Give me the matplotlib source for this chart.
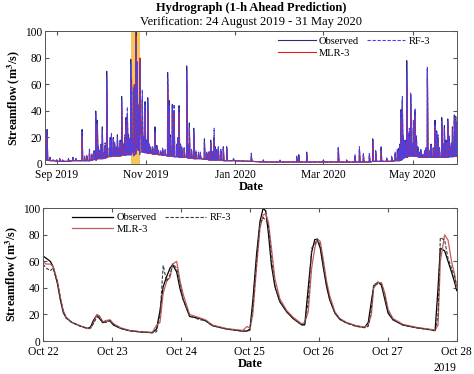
import numpy as np
import pandas as pd
import matplotlib
matplotlib.use("Agg")
import matplotlib.pyplot as plt
import matplotlib.dates as mdates

plt.rcParams['font.family'] = ['Liberation Serif', 'DejaVu Serif']
plt.rcParams['mathtext.fontset'] = 'stix'

# ---------------- data ----------------
start = pd.Timestamp("2019-08-24")
end = pd.Timestamp("2020-05-31")
zoom_start = pd.Timestamp("2019-10-22")

# storm events for the whole verification period (days after 24 Aug 2019)
ev_day = [0.7, 1.4, 3.4, 8, 16, 19, 21, 25.3, 30.3, 34.6, 35.7, 37.5, 39.1, 40.5, 42.1,
          43.9, 45.3, 46.6, 49.4, 50.7, 52.3, 53.9, 55.3, 56.2, 57.6, 58.5,
          66.4, 68.3, 70.1, 72.1, 75.1, 77.4, 80.3, 83.7, 84.6, 86.9, 88.1, 89.9, 91.5,
          93.3, 96.7, 98.5, 101.5, 104.7, 108.8, 110.4, 113.1, 114.4, 115.4, 117.2,
          118.3, 121.7, 124, 128.6, 140.8, 149, 160.4, 171.8, 173.2, 178.6, 190, 200.2,
          205.9, 211.6, 214.6, 217.3, 221.4, 223.7, 225.7, 229.4, 233.2, 236.6, 241.6,
          243, 243.9, 245.3, 246.9, 248, 249.6, 251.4, 252.6, 255.5, 257.8, 261, 262.8,
          266.2, 267.3, 269.2, 270.8, 272.6, 274.9, 276.5, 278.1, 279.4, 280.3]
ev_base = [3, 3, 2.5, 2, 2, 2.5, 2.5, 2.5, 2.5, 3, 4, 4, 4, 4.5, 5,
           6, 6, 6, 6, 6, 6.5, 7, 7, 7, 7, 7,
           9, 8.5, 8, 8, 7.5, 7, 6.5, 6, 6, 6, 5.5, 5.5, 5,
           5, 5, 4.5, 4, 4, 3.5, 3.5, 3, 3, 3, 3,
           3, 2.5, 2.5, 2.5, 2, 1.5, 1.5, 1.5, 1.5, 1.5, 1.5, 1.5,
           1.5, 1.5, 1.5, 1.5, 1.5, 2, 2, 2, 2, 2, 2.5,
           3, 4, 5, 5, 6, 6, 6, 6, 5, 5, 5, 5,
           5, 5, 5, 5, 5, 5, 5.5, 5.5, 6, 6]
ev_obs = [14, 26, 5, 3, 4, 5, 4, 26, 8, 40, 33, 10, 28, 9, 70,
          12, 18, 20, 22, 12, 51, 15, 35, 38, 18, 79,
          49, 47, 50, 12, 28, 10, 11, 69, 48, 45, 40, 14, 44,
          12, 74, 31, 27, 8, 19, 8, 18, 9, 20, 10,
          12, 13, 13, 4, 6, 3, 2.5, 5, 7, 9, 3, 12,
          3, 6, 11, 7, 7, 19, 10, 12, 4, 5, 12,
          41, 48, 15, 78, 22, 52, 27, 40, 8, 7, 72, 10,
          33, 25, 12, 35, 29, 34, 12, 28, 37, 36]
ev_rf = [13, 25, 5, 3, 4, 5, 4, 24, 12, 38, 31, 11, 25, 10, 65,
         13, 23, 19, 20, 13, 48, 16, 33, 43, 20, 75,
         56, 45, 48, 13, 25, 11, 12, 65, 44, 43, 45, 15, 42,
         13, 70, 28, 25, 9, 17, 9, 16, 10, 27, 11,
         13, 12, 12, 4, 9, 3, 3, 6, 6, 8, 3, 13,
         3, 7, 13, 8, 8, 17, 9, 13, 5, 6, 11,
         40, 51, 16, 70, 23, 54, 33, 42, 9, 8, 73, 11,
         30, 24, 13, 32, 27, 32, 13, 27, 35, 35]
ev_mlr = [12, 20, 4, 3, 3.5, 4.5, 4, 20, 9, 30, 28, 9, 22, 8, 55,
          11, 15, 17, 18, 11, 42, 13, 30, 35, 16, 65,
          45, 40, 42, 11, 22, 9, 10, 60, 40, 38, 38, 12, 38,
          11, 62, 25, 22, 7, 16, 7, 15, 8, 18, 9,
          11, 11, 11, 3.5, 5, 2.5, 2.5, 4, 5, 7, 2.5, 9,
          2.5, 5, 10, 6, 6, 15, 8, 10, 4, 5, 10,
          35, 42, 13, 60, 20, 45, 25, 35, 7, 6, 65, 9,
          27, 22, 11, 28, 25, 30, 11, 25, 33, 33]

# smaller freshets that make up the dense band near the baseflow
sm_day = [5.5, 10, 12, 27, 28.5, 32, 33.5, 36.5, 38.3, 41, 44.5, 47.5, 48.5, 51.3, 54.5,
          57, 67.5, 69.2, 71, 73.5, 76.3, 79, 82, 85.5, 87.5, 90.5, 92.5, 95, 97.5, 100,
          103, 106, 112, 116.2, 120, 239, 240.5, 242.2, 244.5, 245.8, 248.7, 250.5,
          253.5, 254.5, 256.5, 259, 260, 263.5, 265, 268.2, 271.7, 273.7, 275.7, 277.3,
          279.9, 280.7]
sm_base = [2.5, 2, 2, 2.5, 2.5, 3, 3.5, 4, 4, 4.5, 5.5, 6, 6, 6, 6.5,
           7, 9, 8.5, 8, 7.5, 7.5, 7, 6.5, 6, 6, 5.5, 5, 5, 4.5, 4.5,
           4, 4, 3, 3, 3, 2.5, 2.5, 3, 4.5, 5, 6, 6,
           6, 5.5, 5, 5, 5, 5, 5, 5, 5, 5, 5.5, 5.5,
           6, 6]
sm_obs = [3, 4, 3, 5, 6, 7, 10, 12, 15, 14, 20, 15, 12, 18, 20,
          22, 20, 18, 15, 12, 14, 9, 10, 22, 25, 18, 15, 12, 14, 10,
          9, 8, 9, 13, 10, 8, 10, 15, 20, 18, 25, 15,
          20, 12, 10, 9, 12, 15, 12, 20, 15, 18, 20, 15,
          22, 30]
sm_rf = [3, 4, 3, 6, 7, 8, 9, 13, 14, 16, 18, 17, 13, 17, 22,
         20, 22, 17, 16, 13, 13, 10, 11, 20, 27, 20, 14, 13, 15, 11,
         10, 9, 10, 12, 11, 9, 11, 14, 22, 17, 27, 16,
         22, 13, 11, 10, 13, 14, 13, 22, 16, 17, 22, 16,
         24, 32]
sm_mlr = [3, 3.5, 3, 4.5, 5.5, 6, 8, 10, 12, 12, 16, 13, 10, 15, 17,
          18, 17, 15, 13, 10, 12, 8, 9, 18, 21, 15, 13, 10, 12, 9,
          8, 7, 8, 11, 9, 7, 9, 13, 17, 16, 21, 13,
          17, 10, 9, 8, 10, 13, 10, 17, 13, 15, 17, 13,
          19, 26]

# hourly detail for 22-28 October 2019 (hours after 22 Oct 00:00)
hrs = [0, 1, 2.5, 3.5, 5, 6, 7, 8, 10, 13, 15.5, 16.5, 17.5, 18.7, 19.6, 20.8, 22, 23.3,
       24.5, 27, 30, 34, 38, 39.5, 40.7, 41.8, 43, 44.2, 45.1, 46.5, 47.7, 48.8, 51,
       54.5, 56.5, 59, 64, 69.5, 71, 72, 73, 74.3, 75.5, 76.6, 77.5, 78.4, 79.5, 80.7,
       82.4, 84.8, 87, 90, 91.1, 92.3, 93.5, 94.6, 95.4, 96.5, 97.5, 98.7, 99.8, 101.6,
       103.3, 105.6, 109, 112, 113.2, 114.3, 115.1, 116.6, 117.8, 119, 120.1, 121.8,
       125.3, 130, 135.8, 136.5, 137.5, 138.3, 139.8, 141, 142.2, 143.3, 144]
obs_h = [64, 62.5, 60, 56, 43, 31, 21.5, 17.5, 14, 11.3, 9.5, 10.5, 15.5, 19.5, 17, 13.8, 15.3, 15,
         12, 9.5, 7.8, 6.8, 6.3, 9, 23, 41, 48.5, 55, 57.5, 52, 39, 31, 18.5,
         17, 15.3, 11.5, 9, 7.5, 7.5, 9, 30, 65, 90, 100, 98, 82, 57, 41,
         29.6, 22, 17, 12.3, 12.5, 40, 67, 76.5, 76.5, 70, 56, 41, 31, 21,
         16.3, 13.8, 11.3, 10.3, 14, 30, 41, 44.5, 42, 31, 21, 16,
         12, 10, 8.3, 8.5, 40, 70, 68, 60, 52, 44, 38]
rf_h = [58, 55, 53, 55, 44, 32, 22, 17.5, 14, 11, 9.5, 10, 13, 18, 18, 14, 14, 15.5,
        12.5, 9.5, 7.8, 6.8, 6.2, 7, 20, 57, 45, 50, 58, 55, 42, 31, 19,
        16, 15.5, 11.5, 9, 7.3, 7.5, 8, 25, 60, 88, 93, 91, 88, 62, 42,
        30, 22, 17, 12, 12, 30, 70, 73, 77, 72, 58, 42, 31, 21,
        16.5, 13.5, 11, 10, 11, 25, 43, 43, 43, 33, 22, 16,
        12, 10, 8, 7, 20, 78, 76, 62, 55, 48, 42]
mlr_h = [60, 58, 58, 56, 45, 33, 23, 18, 14, 11.3, 9.3, 9.5, 13.5, 20, 19, 14.5, 15.5, 16,
         13, 10, 8, 7, 6.5, 12, 14, 36, 45, 48, 58, 60, 45, 35, 20,
         17.5, 16, 12, 9.3, 8, 11, 9.5, 20, 55, 85, 95, 96, 90, 70, 47,
         32, 23, 18, 13, 14, 22, 55, 70, 77, 75, 62, 45, 34, 22,
         17, 14, 11.5, 10.5, 12, 20, 40, 44, 44, 36, 24, 17,
         12.5, 10.3, 8.5, 8.5, 12, 60, 80, 76, 60, 50, 40]

# ---------------- build series ----------------
zoom_off = (zoom_start - start).days


def full_series(ev_vals, sm_vals, hr_vals):
    t, y = [], []
    for days, bases, vals in ((ev_day, ev_base, ev_vals), (sm_day, sm_base, sm_vals)):
        for d, b, p in zip(days, bases, vals):
            if zoom_off <= d <= zoom_off + 6:
                continue
            t += [d - 0.12, d, d + 0.45]
            y += [b, p, b]
    t += [zoom_off + h / 24 for h in hrs]
    y += list(hr_vals)
    order = np.argsort(t)
    t = np.array(t)[order]
    y = np.array(y)[order]
    return start + pd.to_timedelta(t, unit='D'), y


hr_time = zoom_start + pd.to_timedelta(np.array(hrs), unit='h')

c_obs_top, c_rf_top, c_mlr_top = '#2a2a80', '#4a40e6', '#e0221e'
c_obs_bot, c_rf_bot, c_mlr_bot = '#000000', '#3a3a3a', '#c65c5c'

fig = plt.figure(figsize=(4.74, 3.74), dpi=100)
ax1 = fig.add_axes([0.095, 0.5615, 0.8685, 0.3543])
ax2 = fig.add_axes([0.091, 0.0882, 0.8725, 0.3548])

# ---------------- top panel ----------------
ax1.axvspan(zoom_start, zoom_start + pd.Timedelta(days=6), color='#f5b82e', alpha=0.8, lw=0, zorder=0)
t, y = full_series(ev_obs, sm_obs, obs_h)
l_obs, = ax1.plot(t, y, color=c_obs_top, lw=0.8, label='Observed')
t, y = full_series(ev_mlr, sm_mlr, mlr_h)
l_mlr, = ax1.plot(t, y, color=c_mlr_top, lw=0.8, label='MLR-3')
t, y = full_series(ev_rf, sm_rf, rf_h)
l_rf, = ax1.plot(t, y, color=c_rf_top, lw=0.8, ls=(0, (3, 1.5)), label='RF-3')

ax1.set_xlim(start, end)
ax1.set_ylim(0, 100)
ax1.set_yticks([0, 20, 40, 60, 80, 100])
ax1.set_xticks(pd.to_datetime(["2019-09-01", "2019-11-01", "2020-01-01", "2020-03-01", "2020-05-01"]))
ax1.xaxis.set_major_formatter(mdates.DateFormatter('%b %Y'))
ax1.set_xlabel('Date', fontsize=9, fontweight='bold', labelpad=0)
ax1.set_ylabel('Streamflow (m$^\\mathbf{3}$/s)', fontsize=8.7, fontweight='bold', labelpad=2)
fig.text(0.529, 0.979, 'Hydrograph (1-h Ahead Prediction)', ha='center', va='center',
         fontsize=9, fontweight='bold')
fig.text(0.529, 0.941, 'Verification: 24 August 2019 - 31 May 2020', ha='center', va='center',
         fontsize=9)
ax1.legend([l_obs, l_mlr, l_rf], ['Observed', 'MLR-3', 'RF-3'], ncol=2, frameon=False,
           loc='upper right', bbox_to_anchor=(0.935, 0.96), fontsize=7.6, handlelength=3.6,
           handletextpad=0.3, columnspacing=0.8, labelspacing=0.2, borderaxespad=0,
           borderpad=0)

# ---------------- bottom panel ----------------
b_obs, = ax2.plot(hr_time, obs_h, color=c_obs_bot, lw=0.9, label='Observed')
b_mlr, = ax2.plot(hr_time, mlr_h, color=c_mlr_bot, lw=0.9, label='MLR-3')
b_rf, = ax2.plot(hr_time, rf_h, color=c_rf_bot, lw=0.8, ls=(0, (3, 1.5)), label='RF-3')

ax2.set_xlim(zoom_start, zoom_start + pd.Timedelta(days=6))
ax2.set_ylim(0, 100)
ax2.set_yticks([0, 20, 40, 60, 80, 100])
ax2.set_xticks(pd.date_range(zoom_start, periods=7, freq='D'))
ax2.xaxis.set_major_formatter(mdates.DateFormatter('%b %d'))
ax2.set_xlabel('Date', fontsize=9, fontweight='bold', labelpad=0)
ax2.set_ylabel('Streamflow (m$^\\mathbf{3}$/s)', fontsize=8.7, fontweight='bold', labelpad=2)
ax2.text(1.0, -0.16, '2019', transform=ax2.transAxes, ha='right', va='top', fontsize=8.3)
ax2.legend([b_obs, b_mlr, b_rf], ['Observed', 'MLR-3', 'RF-3'], ncol=2, frameon=False,
           loc='upper left', bbox_to_anchor=(0.07, 0.965), fontsize=7.6, handlelength=3.9,
           handletextpad=0.3, columnspacing=0.8, labelspacing=0.2, borderaxespad=0,
           borderpad=0)

for ax in (ax1, ax2):
    ax.tick_params(direction='in', top=True, right=True, labelsize=8.3, length=3,
                   color='#555555', pad=2)
    ax.tick_params(axis='x', pad=3.5)
    for s in ax.spines.values():
        s.set_color('#555555')
        s.set_linewidth(0.7)

fig.savefig('out.png', dpi=100)
